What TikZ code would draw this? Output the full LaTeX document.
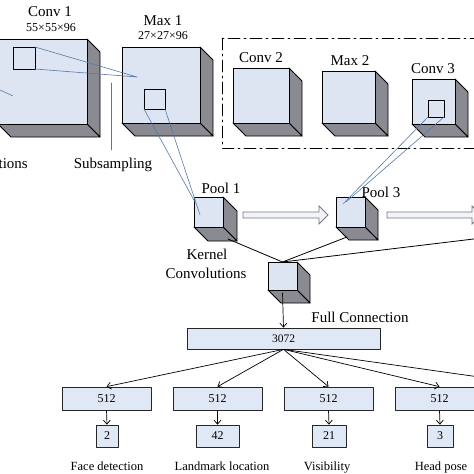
\documentclass[tikz,border=0pt]{standalone}
\usepackage{fontspec}
\setmainfont{Liberation Serif}
\usetikzlibrary{arrows.meta,positioning}
\definecolor{faceblue}{RGB}{221,229,242}
\definecolor{boxblue}{RGB}{224,232,245}
\definecolor{sidegray}{RGB}{138,138,146}
\definecolor{linkblue}{RGB}{88,120,170}
\definecolor{hollowgray}{RGB}{120,120,124}
% cube: name, x, y, width, height, depth
\newcommand{\cubeblock}[6]{%
	\filldraw[side] (#2+#4,#3)--++(#6,#6)--++(0,#5)--++(-#6,-#6)--cycle;
	\filldraw[side] (#2,#3+#5)--++(#4,0)--++(#6,#6)--++(-#4,0)--cycle;
	\node[face,minimum width=#4pt,minimum height=#5pt,anchor=north west] (#1) at (#2,#3) {};}
\begin{document}
\begin{tikzpicture}[x=1pt,y=-1pt,line join=round,line cap=round,>={Straight Barb[length=4pt,width=7pt]},
		face/.style={draw,fill=faceblue,line width=0.9pt,inner sep=0,outer sep=0},
		side/.style={fill=sidegray,draw=black,line width=0.9pt},
		win/.style={draw,line width=0.8pt,inner sep=0,outer sep=0,anchor=north west},
		link/.style={draw=linkblue,line width=0.6pt},
		wire/.style={draw=black,line width=0.8pt},
		hollow/.style={draw=hollowgray,fill=faceblue!40,line width=0.8pt,line join=miter},
		box/.style={draw=black!85,fill=boxblue,line width=0.7pt,inner sep=0,font=\fontsize{12}{14}\selectfont},
		arr/.style={->,line width=0.7pt},
		lbl/.style={font=\fontsize{15}{17}\selectfont,anchor=base,inner sep=0},
		dim/.style={font=\fontsize{12}{14}\selectfont,anchor=base,inner sep=0}]
	\useasboundingbox (0,0) rectangle (474,474);
	\clip (0,0) rectangle (474,474);
	% feature maps
	\cubeblock{conv1}{-2}{39}{89}{85}{13}
	\cubeblock{max1}{122}{47}{78}{76}{13}
	\cubeblock{conv2}{233}{68}{56}{55}{13}
	\cubeblock{max2}{322}{71}{53}{52}{13}
	\cubeblock{conv3}{412}{79}{43}{45}{13}
	\cubeblock{pool1}{194}{197}{29}{30}{14}
	\cubeblock{pool3}{336}{197}{29}{30}{13}
	\cubeblock{kern}{268}{262}{29}{28}{13}
	\node[win,minimum width=22pt,minimum height=22pt] (sq1) at (13,47) {};
	\node[win,minimum width=21pt,minimum height=20pt] (sq2) at (144,89) {};
	\node[win,minimum width=16pt,minimum height=17pt] (sq3) at (428,100) {};
	\draw[dash pattern=on 12pt off 4pt on 2pt off 4pt,line width=0.9pt] (222,38) rectangle (495,148);
	% labels
	\node[lbl] (lconv1) at (50,16) {Conv 1};
	\node[dim] at (51,31) {55×55×96};
	\node[lbl] (lmax1) at (163,25) {Max 1};
	\node[dim] at (163,39) {27×27×96};
	\node[lbl] at (261,62) {Conv 2};
	\node[lbl] at (350,65) {Max 2};
	\node[lbl] at (433,73) {Conv 3};
	\node[lbl,anchor=base east] at (28,168) {Convolutions};
	\node[lbl] (sub) at (113,168) {Subsampling};
	\draw[draw=black!55,line width=0.8pt] (111,83)--(111,150);
	\node[lbl] at (221,193) {Pool 1};
	\node[lbl] at (381,197) {Pool 3};
	\node[lbl] at (207,259) {Kernel};
	\node[lbl] at (206,278) {Convolutions};
	\node[lbl] at (360,322) {Full Connection};
	% receptive fields
	\coordinate (m1) at (137,77);
	\coordinate (c1) at (13,96);
	\coordinate (c0) at (-10,85.4);
	\coordinate (p1a) at (195,202);
	\coordinate (p1b) at (200,215);
	\coordinate (p3a) at (343,204);
	\coordinate (p3b) at (346,202);
	\draw[link] (c0)--(c1);
	\draw[link] (sq1.north east)--(m1)--(sq1.south east);
	\draw[link] (sq2.south west)--(p1a);
	\draw[link] (sq2.south east)--(p1b);
	\draw[link] (sq3.south west)--(p3a);
	\draw[link] (sq3.south east)--(p3b);
	% pooling arrows
	\draw[hollow] (243,212)--(319,212)--(319,206)--(328,215)--(319,224)--(319,218)--(243,218)--cycle;
	\draw[hollow] (387,212)--(472,212)--(472,206)--(481,215)--(472,224)--(472,218)--(387,218)--cycle;
	% into the kernel
	\coordinate (poolr) at (482,238);
	\draw[wire] (pool1.south east) ++(5,12)--(kern.north);
	\draw[wire] (pool3.south west) ++(11,10)--(kern.north);
	\draw[wire] (poolr)--(kern.north);
	% fully connected
	\node[box,minimum width=193pt,minimum height=21pt,font=\fontsize{11.5}{13}\selectfont] (fc) at (283.5,338.5) {3072};
	\draw[arr] (kern.south) ++(0,3)--(fc.north);
	\foreach \n/\x in {1/106.5,2/217.5,3/328.5,4/439.5}{
		\node[box,minimum width=89pt,minimum height=23pt] (h\n) at (\x,398.5) {512};
		\draw[arr] (fc.south)--(h\n.north);}
	\coordinate (h5) at (550,387);
	\draw[arr] (fc.south)--(h5);
	\foreach \n/\x/\w/\t in {1/107/22/2,2/217.5/43/42,3/329/34/21,4/440/26/3}{
		\node[box,minimum width=\w pt,minimum height=22pt] (o\n) at (\x,436) {\t};
		\draw[arr] (h\n.south)--(o\n.north);}
	\foreach \x/\t in {107/Face detection,222/Landmark location,327/Visibility,441/Head pose}{
		\node[dim,font=\fontsize{12.5}{14}\selectfont] at (\x,470) {\t};}
\end{tikzpicture}
\end{document}
